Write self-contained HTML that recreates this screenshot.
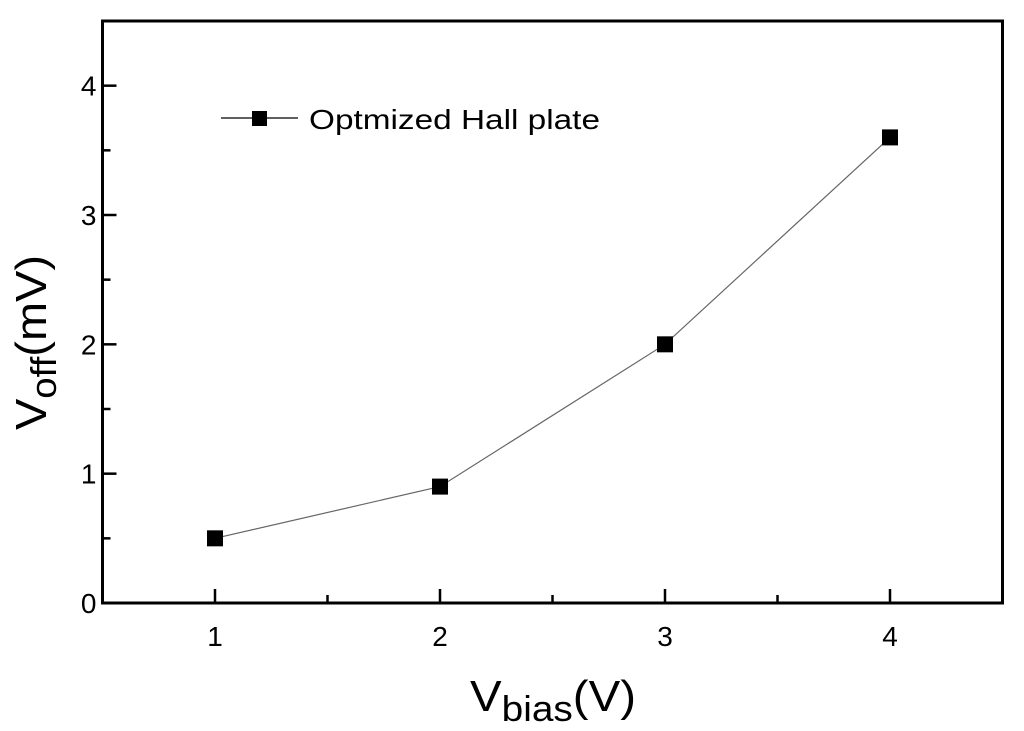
<!DOCTYPE html>
<html><head><meta charset="utf-8"><style>
body{margin:0;background:#fff;}
svg{display:block;font-family:"Liberation Sans",Arial,sans-serif;}
</style></head><body>
<svg id="chart" width="1024" height="731" viewBox="0 0 1024 731" xmlns="http://www.w3.org/2000/svg">
<g id="axes"></g>
<g id="series"></g>
<g>
<line x1="221" y1="118" x2="298" y2="118" stroke="#000" stroke-width="1.2"/>
<rect x="252" y="111" width="15" height="15" fill="#000"/>
<text x="309" y="129" font-size="28" textLength="291" lengthAdjust="spacingAndGlyphs" fill="#000">Optmized Hall plate</text>
</g>
<text x="470" y="711" font-size="44" textLength="166" lengthAdjust="spacingAndGlyphs" fill="#000">V<tspan font-size="36" dy="10">bias</tspan><tspan dy="-10">(V)</tspan></text>
<text transform="translate(46,430) rotate(-90)" font-size="44" textLength="175" lengthAdjust="spacingAndGlyphs" fill="#000">V<tspan font-size="36" dy="10">off</tspan><tspan dy="-10">(mV)</tspan></text>
</svg>
<script>
const xVals=[1,2,3,4];
const yVals=[0.5,0.9,2.0,3.6];
const xTicks=[1,2,3,4];
const yTicks=[0,1,2,3,4];
const L=102.5,R=1002.5,T=21,B=603;
const xmin=0.5,xmax=4.5,ymin=0,ymax=4.5;
const X=v=>L+(v-xmin)/(xmax-xmin)*(R-L);
const Y=v=>B-(v-ymin)/(ymax-ymin)*(B-T);
const ns="http://www.w3.org/2000/svg";
function mk(tag,attrs,parent){const e=document.createElementNS(ns,tag);for(const k in attrs)e.setAttribute(k,attrs[k]);parent.appendChild(e);return e;}
const ax=document.getElementById('axes');
let f=mk('rect',{x:L,y:T,width:R-L,height:B-T,fill:'none',stroke:'#000','stroke-width':3},ax);


xTicks.forEach(t=>{
 let l=mk('line',{x1:X(t),x2:X(t),y1:B,y2:B-14,stroke:'#000','stroke-width':2.5},ax);
 
 
 let m=mk('line',{x1:X(t+0.5),x2:X(t+0.5),y1:B,y2:B-8,stroke:'#000','stroke-width':2.5},ax);
 
 
 let tx=mk('text',{x:X(t),y:B+43,'font-size':28,'text-anchor':'middle',fill:'#000'},ax);
 tx.textContent=t;
 
 
});
yTicks.forEach(t=>{
 let l=mk('line',{x1:L,x2:L+14,y1:Y(t),y2:Y(t),stroke:'#000','stroke-width':2.5},ax);
 
 
 let m=mk('line',{x1:L,x2:L+8,y1:Y(t+0.5),y2:Y(t+0.5),stroke:'#000','stroke-width':2.5},ax);
 
 
 let tx=mk('text',{x:L-2,y:Y(t)+10,'font-size':28,'text-anchor':'end',fill:'#000'},ax);
 tx.setAttribute('dx','-0');
 tx.textContent=t;
 
 
 tx.setAttribute('x',L-6);
});
const sg=document.getElementById('series');
let pl=mk('polyline',{points:xVals.map((x,i)=>X(x)+','+Y(yVals[i])).join(' '),fill:'none',stroke:'#666','stroke-width':1.2},sg);


xVals.forEach((x,i)=>{
 let r=mk('rect',{x:X(x)-8,y:Y(yVals[i])-8,width:16,height:16,fill:'#000'},sg);
 
 
});
</script>
</body></html>
